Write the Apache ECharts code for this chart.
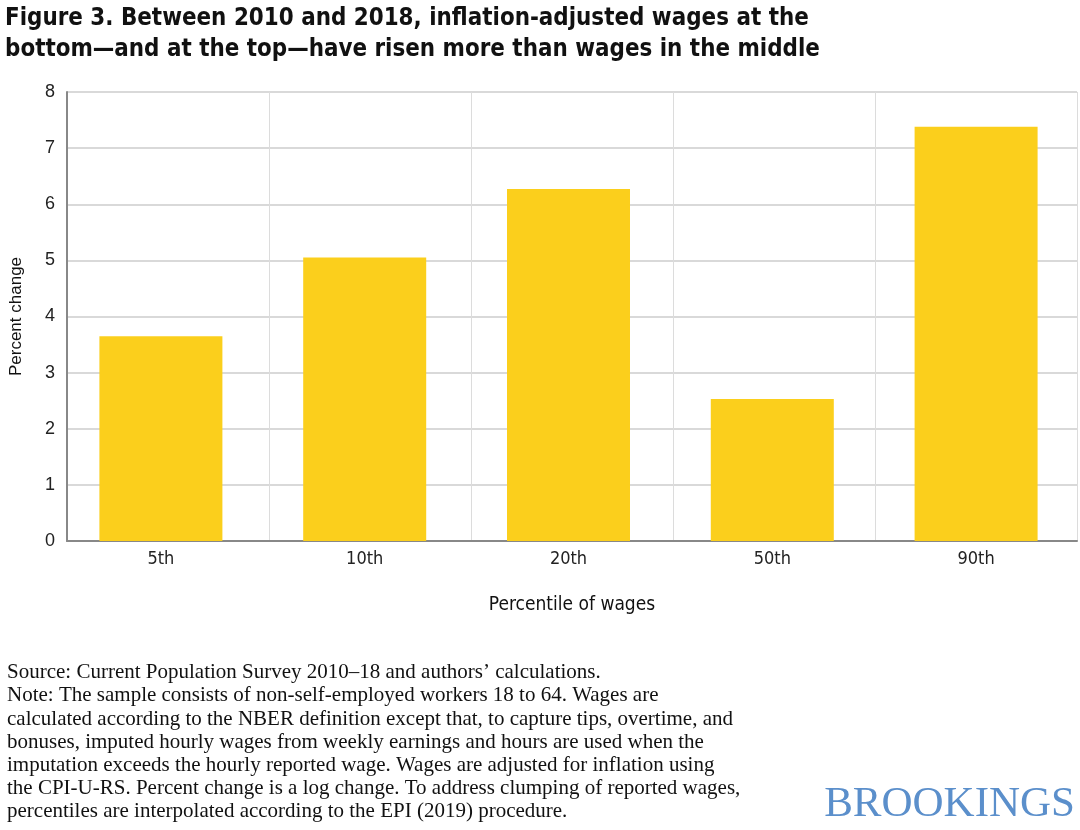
<!DOCTYPE html>
<html><head><meta charset="utf-8">
<script src="https://cdn.jsdelivr.net/npm/echarts@6/dist/echarts.min.js"></script>
<style>html,body{margin:0;padding:0;background:#fff}#c{width:1080px;height:830px}</style>
</head><body><div id="c"></div>
<script>
const categories = ['5th', '10th', '20th', '50th', '90th'];
const values = [3.65, 5.05, 6.27, 2.53, 7.38];
const yTicks = { min: 0, max: 8, interval: 1 };
const titleLines = 'Figure 3. Between 2010 and 2018, inflation-adjusted wages at the\nbottom\u2014and at the top\u2014have risen more than wages in the middle';
const noteLines = [
 'Source: Current Population Survey 2010\u201318 and authors\u2019 calculations.',
 'Note: The sample consists of non-self-employed workers 18 to 64. Wages are',
 'calculated according to the NBER definition except that, to capture tips, overtime, and',
 'bonuses, imputed hourly wages from weekly earnings and hours are used when the',
 'imputation exceeds the hourly reported wage. Wages are adjusted for inflation using',
 'the CPI-U-RS. Percent change is a log change. To address clumping of reported wages,',
 'percentiles are interpolated according to the EPI (2019) procedure.'
];
const condensed = '"Liberation Sans Narrow","DejaVu Sans Condensed","Roboto Condensed",sans-serif';
const sans = '"Liberation Sans",Arial,sans-serif';
const chart = echarts.init(document.getElementById('c'), null, {renderer: 'canvas'});
chart.setOption({
  animation: false,
  backgroundColor: '#fff',
  graphic: [
    { type: 'text', x: 5, y: 3, scaleX: 0.955,
      style: { text: titleLines, font: 'bold 25px ' + condensed, lineHeight: 31, fill: '#111' } },
    { type: 'text', x: 7, y: 661,
      style: { text: noteLines.join('\n'), font: '21px "Liberation Serif","DejaVu Serif",serif', lineHeight: 23.2, fill: '#111' } },
    { type: 'text', right: 5, top: 783,
      style: { text: 'BROOKINGS', font: '43px "Liberation Serif","DejaVu Serif",serif', fill: '#5B8FCB' } }
  ],
  grid: [
    { left: 67, right: 3, top: 92, bottom: 289, outerBoundsMode: 'none', containLabel: false },
    { left: 59, right: 2, top: 92, bottom: 289, outerBoundsMode: 'none', containLabel: false }
  ],
  xAxis: [{
    type: 'category', data: categories, gridIndex: 0,
    name: 'Percentile of wages', nameLocation: 'middle', nameGap: 55,
    nameTextStyle: { fontFamily: condensed, fontSize: 19, color: '#111' },
    axisLine: { show: true, lineStyle: { color: '#888', width: 2 } },
    axisTick: { show: false },
    axisLabel: { show: false },
    splitLine: { show: true, lineStyle: { color: '#dcdcdc', width: 1 } }
  }, {
    type: 'category', data: categories, gridIndex: 1,
    axisLine: { show: false }, axisTick: { show: false }, splitLine: { show: false },
    axisLabel: { fontFamily: condensed, fontSize: 18, color: '#222', margin: 9 }
  }],
  yAxis: [{
    type: 'value', min: yTicks.min, max: yTicks.max, interval: yTicks.interval, gridIndex: 0,
    name: 'Percent change', nameLocation: 'middle', nameGap: 42,
    nameTextStyle: { fontFamily: sans, fontSize: 17, color: '#111' },
    axisLine: { show: true, lineStyle: { color: '#888', width: 2 } },
    axisTick: { show: false },
    axisLabel: { fontFamily: sans, fontSize: 18, color: '#222', margin: 12 },
    splitLine: { show: true, lineStyle: { color: '#cccccc', width: 1.5 } }
  }, {
    type: 'value', min: yTicks.min, max: yTicks.max, interval: yTicks.interval, gridIndex: 1, show: false
  }],
  series: [{
    type: 'bar', data: values, xAxisIndex: 1, yAxisIndex: 1, barWidth: 123,
    itemStyle: { color: '#FBCF1C' }
  }]
});
</script></body></html>
